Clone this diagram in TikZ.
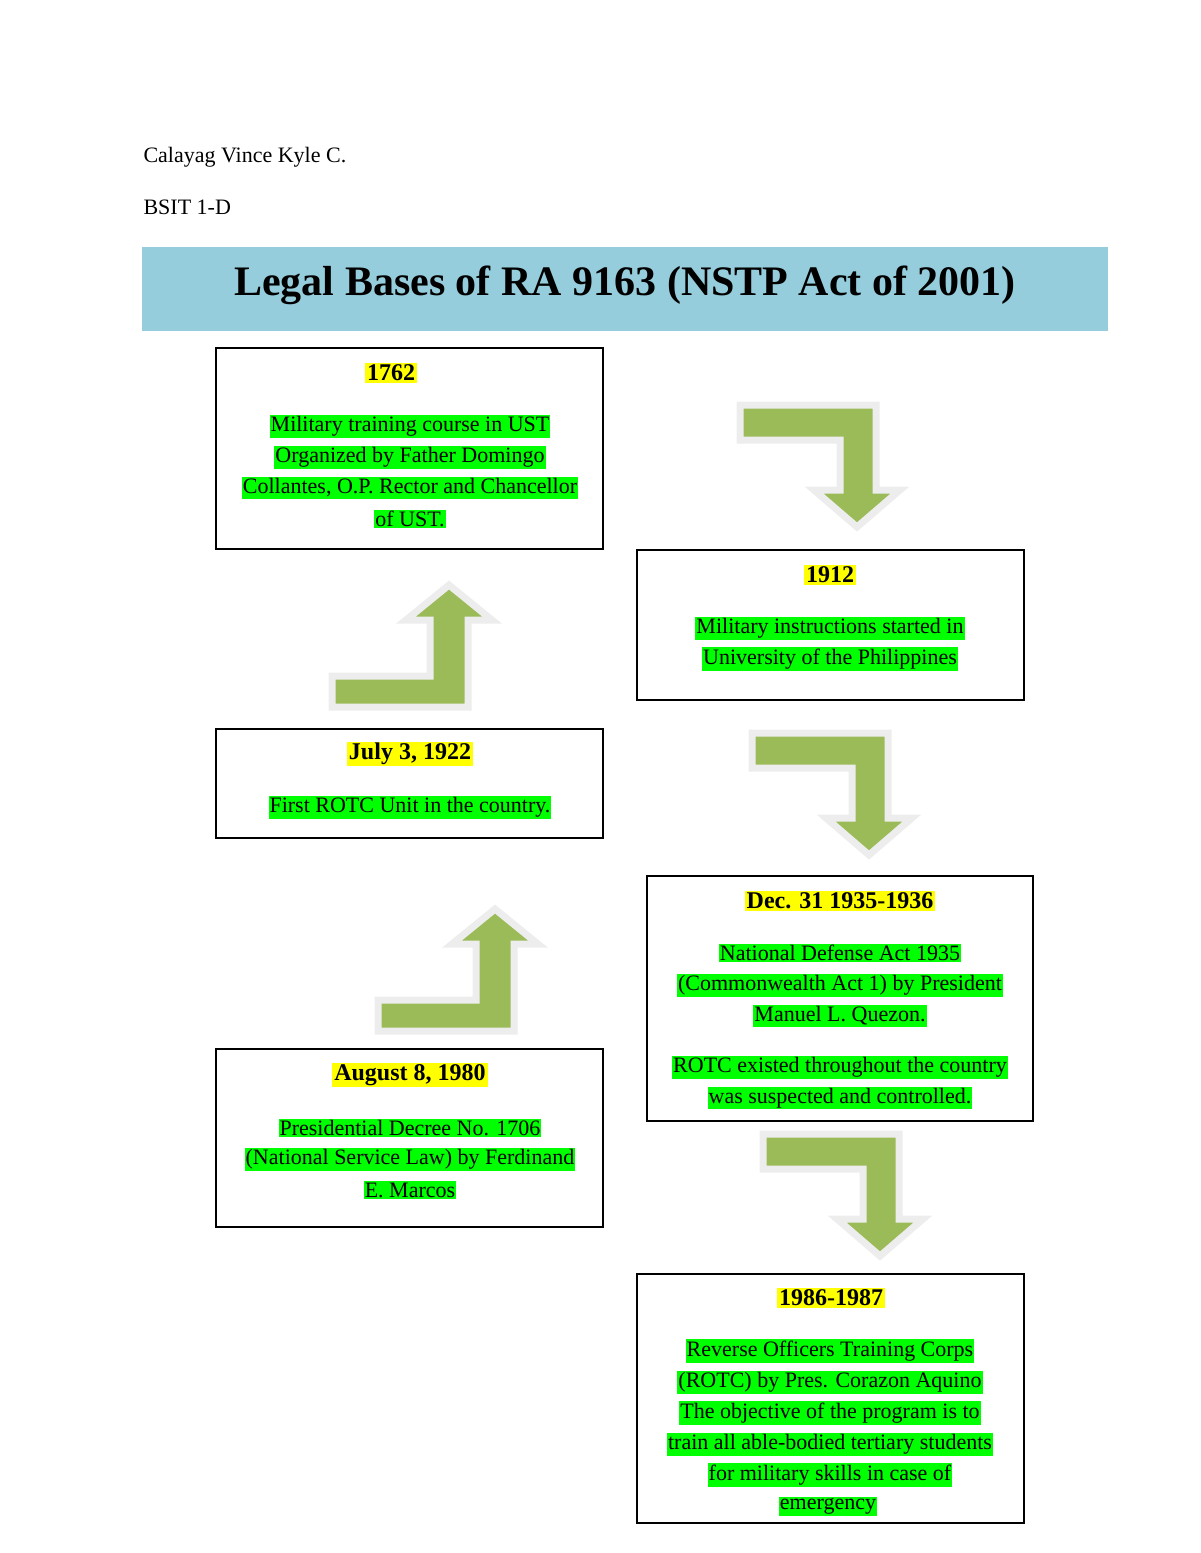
\documentclass[tikz,border=0pt]{standalone}
\usepackage{fontspec}
\setmainfont{Liberation Serif}
\definecolor{hlg}{HTML}{00FF00}
\definecolor{hly}{HTML}{FFFF00}
\definecolor{arr}{HTML}{9BBB59}
\definecolor{band}{HTML}{96CDDC}
\tikzset{
 ln/.style={fill=hlg,inner xsep=1pt,inner ysep=1.5pt,font=\fontsize{22}{24}\selectfont,anchor=center},
 yr/.style={fill=hly,inner xsep=2pt,inner ysep=1.5pt,font=\fontsize{24}{26}\selectfont\bfseries,anchor=center},
 boxx/.style={draw=black,line width=1.2pt},
 barrow/.style={fill=arr,draw=black!7,line width=7pt,line join=miter}
}
\begin{document}
\begin{tikzpicture}[x=1pt,y=-1pt]
\useasboundingbox (0,0) rectangle (1200,1553);
\node[anchor=west,font=\fontsize{22}{24}\selectfont] (nm) at (140,157) {Calayag Vince Kyle C.};
\node[anchor=west,font=\fontsize{22}{24}\selectfont] (cl) at (140,207) {BSIT 1-D};
\fill[band] (142,247) rectangle (1108,331);
\node[font=\fontsize{42}{44}\selectfont\bfseries] (title) at (625,285) {Legal Bases of RA 9163 (NSTP Act of 2001)};
% boxes
\draw[boxx] (216,348) rectangle (603,549);
\draw[boxx] (637,550) rectangle (1024,700);
\draw[boxx] (216,729) rectangle (603,838);
\draw[boxx] (647,876) rectangle (1033,1121);
\draw[boxx] (216,1049) rectangle (603,1227);
\draw[boxx] (637,1274) rectangle (1024,1523);
% arrows down
\foreach \dx/\dy in {0/0, 12/328, 23/729}{
 \draw[barrow] (740+\dx,405+\dy) -- (876+\dx,405+\dy) -- (876+\dx,490+\dy) -- (900+\dx,490+\dy) -- (857+\dx,527+\dy) -- (814+\dx,490+\dy) -- (840+\dx,490+\dy) -- (840+\dx,440+\dy) -- (740+\dx,440+\dy) -- cycle;
}
% arrows up
\foreach \dx/\dy in {0/0, 46/324}{
 \draw[barrow] (332+\dx,707+\dy) -- (468+\dx,707+\dy) -- (468+\dx,620+\dy) -- (492+\dx,620+\dy) -- (449+\dx,585+\dy) -- (406+\dx,620+\dy) -- (430+\dx,620+\dy) -- (430+\dx,676+\dy) -- (332+\dx,676+\dy) -- cycle;
}
% 1762
\node[yr] (y1) at (391,373) {1762};
\node[ln] (a1) at (410,426) {Military training course in UST};
\node[ln] (a2) at (410,457) {Organized by Father Domingo};
\node[ln] (a3) at (410,488) {Collantes, O.P. Rector and Chancellor};
\node[ln] (a4) at (410,519) {of UST.};
% 1912
\node[yr] (y2) at (830,575) {1912};
\node[ln] (b1) at (830,628) {Military instructions started in};
\node[ln] (b2) at (830,659) {University of the Philippines};
% 1922
\node[yr] (y3) at (410,754) {July 3, 1922};
\node[ln] (c1) at (410,807) {First ROTC Unit in the country.};
% 1935
\node[yr] (y4) at (840,901) {Dec. 31 1935-1936};
\node[ln] (d1) at (840,953) {National Defense Act 1935};
\node[ln] (d2) at (840,985) {(Commonwealth Act 1) by President};
\node[ln] (d3) at (840,1016) {Manuel L. Quezon.};
\node[ln] (d4) at (840,1067) {ROTC existed throughout the country};
\node[ln] (d5) at (840,1098) {was suspected and controlled.};
% 1980
\node[yr] (y5) at (410,1075) {August 8, 1980};
\node[ln] (e1) at (410,1128) {Presidential Decree No. 1706};
\node[ln] (e2) at (410,1159) {(National Service Law) by Ferdinand};
\node[ln] (e3) at (410,1190) {E. Marcos};
% 1986
\node[yr] (y6) at (831,1298) {1986-1987};
\node[ln] (f1) at (830,1351) {Reverse Officers Training Corps};
\node[ln] (f2) at (830,1382) {(ROTC) by Pres. Corazon Aquino};
\node[ln] (f3) at (830,1413) {The objective of the program is to};
\node[ln] (f4) at (830,1444) {train all able-bodied tertiary students};
\node[ln] (f5) at (830,1475) {for military skills in case of};
\node[ln] (f6) at (828,1506) {emergency};
\end{tikzpicture}
\end{document}
